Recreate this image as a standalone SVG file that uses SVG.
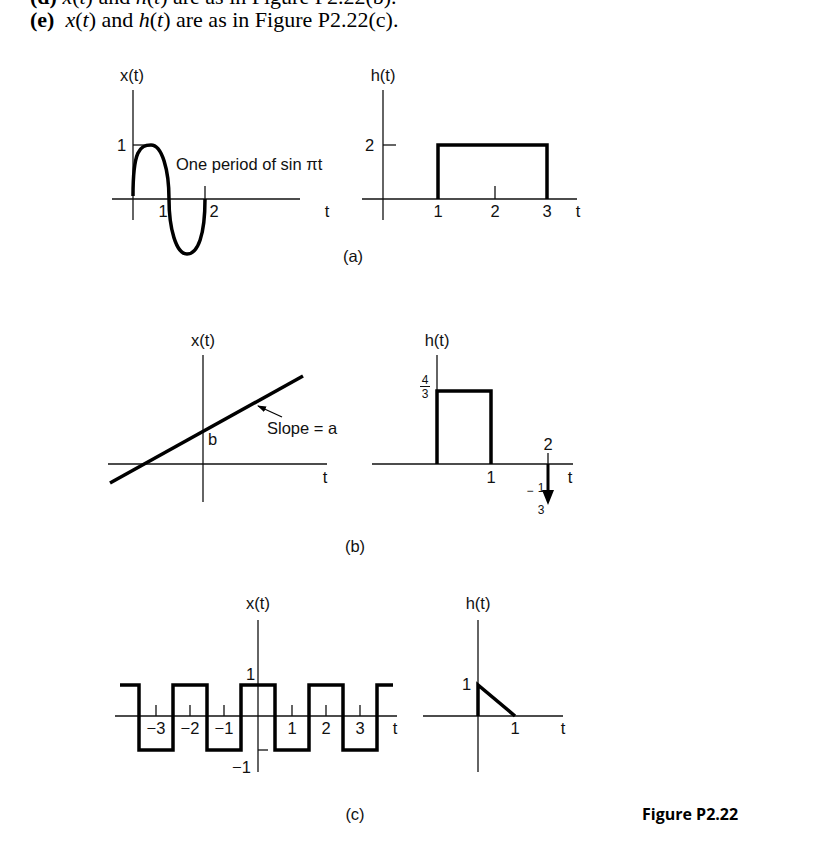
<svg xmlns="http://www.w3.org/2000/svg" width="832" height="842" viewBox="0 0 832 842">
<style>
.ax{stroke:#111;stroke-width:1.3;fill:none}
.cv{stroke:#000;stroke-width:3.5;fill:none;stroke-linejoin:miter}
.t{font-family:"Liberation Sans",Arial,sans-serif;font-size:16.5px;fill:#111}
.c{text-anchor:middle}
.s{font-size:12px}
.hd{font-family:"Liberation Serif","Times New Roman",serif;font-size:22px;fill:#000}
</style>
<defs><marker id="ah" markerWidth="9" markerHeight="8" refX="8" refY="4" orient="auto" markerUnits="userSpaceOnUse"><path d="M0,1 L9,4 L0,7 Z" fill="#000"/></marker></defs>
<g id="header">
<text class="hd" x="30" y="4"><tspan font-weight="bold">(d)</tspan>  <tspan font-style="italic">x</tspan>(<tspan font-style="italic">t</tspan>) and <tspan font-style="italic">h</tspan>(<tspan font-style="italic">t</tspan>) are as in Figure P2.22(b).</text>
<text class="hd" x="30" y="27" xml:space="preserve"><tspan font-weight="bold">(e)</tspan>  <tspan font-style="italic">x</tspan>(<tspan font-style="italic">t</tspan>) and <tspan font-style="italic">h</tspan>(<tspan font-style="italic">t</tspan>) are as in Figure P2.22(c).</text>
</g>
<g id="a-x">
<line class="ax" x1="133" y1="90" x2="133" y2="220"/><line class="ax" x1="112" y1="199" x2="300" y2="199"/>
<line class="ax" x1="133" y1="145" x2="146" y2="145"/><line class="ax" x1="205" y1="186" x2="205" y2="199"/>
<path class="cv" d="M133,196 C133,150 140,145 151,145 C162,145 169,170 169,199 C169,228 176,254 187,254 C198,254 205,235 205,199"/>
<text class="t c" x="132" y="81">x(t)</text><text class="t" x="117" y="151">1</text>
<text class="t" x="176" y="170">One period of sin πt</text>
<text class="t c" x="163" y="217">1</text><text class="t c" x="214" y="217">2</text><text class="t c" x="327" y="217">t</text>
</g>
<g id="a-h">
<line class="ax" x1="383" y1="90" x2="383" y2="220"/><line class="ax" x1="362" y1="199" x2="577" y2="199"/>
<line class="ax" x1="383" y1="145" x2="396" y2="145"/><line class="ax" x1="495" y1="186" x2="495" y2="199"/>
<path class="cv" d="M438,199 V145 H547 V199"/>
<text class="t c" x="383" y="81">h(t)</text><text class="t" x="365" y="151">2</text>
<text class="t c" x="438" y="217">1</text><text class="t c" x="495" y="217">2</text><text class="t c" x="547" y="217">3</text><text class="t c" x="578" y="217">t</text>
<text class="t c" x="353" y="262">(a)</text>
</g>
<g id="b-x">
<line class="ax" x1="203" y1="355" x2="203" y2="502"/><line class="ax" x1="108" y1="464" x2="327" y2="464"/>
<line class="cv" x1="110" y1="483" x2="303" y2="376"/>
<text class="t c" x="203" y="346">x(t)</text><text class="t" x="208" y="445">b</text>
<text class="t" x="267" y="434">Slope = a</text><text class="t c" x="325" y="483">t</text>
</g>
<g id="b-h">
<line class="ax" x1="437" y1="355" x2="437" y2="464"/><line class="ax" x1="372" y1="464" x2="573" y2="464"/>
<path class="cv" d="M437,464 V391 H491 V464"/>
<line class="ax" x1="548" y1="453" x2="548" y2="464"/>
<line x1="548" y1="464" x2="548" y2="492" stroke="#000" stroke-width="3"/>
<path d="M542,490 L548,505 L554,490 Z" fill="#000"/>
<text class="t c" x="437" y="346">h(t)</text>
<text class="t c s" x="425" y="384">4</text><line x1="420" y1="386.5" x2="430" y2="386.5" stroke="#111" stroke-width="1"/><text class="t c s" x="425" y="398">3</text>
<text class="t c" x="491" y="483">1</text><text class="t c" x="570" y="483">t</text>
<text class="t c" x="548" y="450">2</text>
<text class="t c s" x="530" y="495">−</text><text class="t c s" x="541" y="492">1</text><text class="t c s" x="541" y="514">3</text>
<text class="t c" x="355" y="552">(b)</text>
</g>
<g id="c-x">
<line class="ax" x1="258" y1="620" x2="258" y2="772"/><line class="ax" x1="115" y1="716" x2="397" y2="716"/>
<g class="ax"><line x1="156" y1="705" x2="156" y2="716"/><line x1="190" y1="705" x2="190" y2="716"/><line x1="224" y1="705" x2="224" y2="716"/><line x1="292" y1="705" x2="292" y2="716"/><line x1="326" y1="705" x2="326" y2="716"/><line x1="360" y1="705" x2="360" y2="716"/><line x1="258" y1="750" x2="268" y2="750"/></g>
<path class="cv" d="M120,685 H139 V750 H173 V685 H207 V750 H241 V685 H275 V750 H309 V685 H343 V750 H377 V685 H393"/>
<text class="t c" x="258" y="609">x(t)</text>
<text class="t" x="246" y="680">1</text><text class="t" x="232" y="773">−1</text>
<text class="t c" x="156" y="734">−3</text><text class="t c" x="190" y="734">−2</text><text class="t c" x="224" y="734">−1</text>
<text class="t c" x="292" y="734">1</text><text class="t c" x="326" y="734">2</text><text class="t c" x="360" y="734">3</text><text class="t c" x="395" y="734">t</text>
</g>
<g id="c-h">
<line class="ax" x1="478" y1="620" x2="478" y2="772"/><line class="ax" x1="423" y1="716" x2="563" y2="716"/>
<path class="cv" d="M478,716 V685 L515,716"/>
<text class="t c" x="478" y="609">h(t)</text><text class="t" x="462" y="690">1</text>
<text class="t c" x="515" y="734">1</text><text class="t c" x="563" y="734">t</text>
<text class="t c" x="355" y="820">(c)</text>
</g>
<g id="connectors"><line x1="282" y1="417" x2="258" y2="406" stroke="#000" stroke-width="1.2" marker-end="url(#ah)"/></g>
<text x="642" y="820" font-family="'Open Sans','Liberation Sans',sans-serif" font-weight="bold" font-size="16" fill="#000">Figure P2.22</text>
</svg>
